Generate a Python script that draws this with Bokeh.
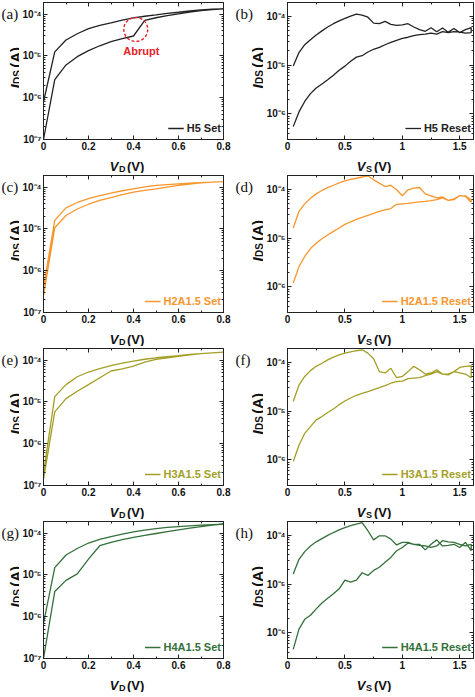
import math
from bokeh.plotting import figure
from bokeh.layouts import column, row
from bokeh.models import (Range1d, FixedTicker, SingleIntervalTicker, LinearAxis, LogAxis,
                          CustomJSTickFormatter)
from bokeh.core.properties import value
from bokeh.embed import file_html
from bokeh.resources import INLINE

# ---------------- data ----------------
v_set = [0.0, 0.05, 0.1, 0.15, 0.2, 0.25, 0.3, 0.35, 0.4, 0.45, 0.5, 0.55, 0.6, 0.65, 0.7, 0.75, 0.8]
v_reset = [0.05, 0.1, 0.15, 0.2, 0.25, 0.3, 0.35, 0.4, 0.45, 0.5, 0.55, 0.6, 0.65, 0.7, 0.75, 0.8,
           0.85, 0.9, 0.95, 1.0, 1.05, 1.1, 1.15, 1.2, 1.25, 1.3, 1.35, 1.4, 1.45, 1.5, 1.55, 1.6]

# (a) H5 Set : forward (lo) and return (hi) sweeps
a_lo = [1.0e-7, 2.7e-6, 6.1e-6, 9.6e-6, 1.34e-5, 1.75e-5, 2.2e-5, 2.6e-5, 3.0e-5, 7.1e-5, 8.2e-5,
        9.2e-5, 1.02e-4, 1.12e-4, 1.22e-4, 1.29e-4, 1.34e-4]
a_hi = [8e-7, 1.25e-5, 2.4e-5, 3.4e-5, 4.5e-5, 5.4e-5, 6.2e-5, 7.2e-5, 8.1e-5, 8.9e-5, 9.6e-5,
        1.04e-4, 1.11e-4, 1.2e-4, 1.27e-4, 1.31e-4, 1.34e-4]
# (b) H5 Reset : forward (hi) and return (lo)
b_hi = [9.5e-6, 1.8e-5, 2.6e-5, 3.3e-5, 4.1e-5, 5.0e-5, 6.0e-5, 7.0e-5, 8.0e-5, 9.0e-5, 1.0e-4, 1.1e-4,
        1.05e-4, 9.5e-5, 7.2e-5, 7.0e-5, 7.8e-5, 6.8e-5, 6.5e-5, 6.6e-5, 7.0e-5, 6.0e-5, 5.3e-5, 4.9e-5,
        5.8e-5, 4.8e-5, 5.7e-5, 4.7e-5, 5.6e-5, 4.6e-5, 5.3e-5, 5.8e-5]
b_lo = [5.5e-7, 1.1e-6, 1.8e-6, 2.6e-6, 3.4e-6, 4.1e-6, 5.0e-6, 6.2e-6, 7.8e-6, 9.5e-6, 1.2e-5, 1.45e-5,
        1.55e-5, 1.85e-5, 2.1e-5, 2.3e-5, 2.6e-5, 2.9e-5, 3.2e-5, 3.5e-5, 3.7e-5, 4.0e-5, 4.2e-5, 4.3e-5,
        4.5e-5, 4.3e-5, 4.8e-5, 4.6e-5, 4.8e-5, 4.7e-5, 4.5e-5, 4.6e-5]
# (c) H2A1.5 Set
c_lo = [2.5e-7, 1.07e-5, 2.1e-5, 3.0e-5, 3.9e-5, 4.8e-5, 5.6e-5, 6.6e-5, 7.6e-5, 8.4e-5, 9.1e-5,
        1.0e-4, 1.1e-4, 1.19e-4, 1.27e-4, 1.32e-4, 1.36e-4]
c_hi = [4e-7, 1.6e-5, 3.2e-5, 4.3e-5, 5.3e-5, 6.3e-5, 7.2e-5, 8.2e-5, 9.1e-5, 1.01e-4, 1.1e-4,
        1.15e-4, 1.2e-4, 1.24e-4, 1.28e-4, 1.32e-4, 1.36e-4]
# (d) H2A1.5 Reset
d_hi = [1.6e-5, 3.5e-5, 5.0e-5, 6.5e-5, 8.0e-5, 9.4e-5, 1.07e-4, 1.2e-4, 1.34e-4, 1.48e-4, 1.58e-4, 1.67e-4,
        1.77e-4, 1.87e-4, 1.55e-4, 1.33e-4, 1.13e-4, 1.2e-4, 9.7e-5, 7.3e-5, 9.7e-5, 1.05e-4, 1.08e-4, 8.0e-5,
        7.3e-5, 6.6e-5, 6.9e-5, 5.9e-5, 6.1e-5, 7.4e-5, 7.1e-5, 5.4e-5]
d_lo = [1.2e-6, 2.6e-6, 4.2e-6, 6.1e-6, 7.8e-6, 9.7e-6, 1.15e-5, 1.37e-5, 1.6e-5, 1.9e-5, 2.15e-5, 2.4e-5,
        2.65e-5, 2.9e-5, 3.2e-5, 3.5e-5, 3.75e-5, 4.0e-5, 4.9e-5, 5.0e-5, 5.1e-5, 5.3e-5, 5.5e-5, 5.6e-5,
        5.8e-5, 6.1e-5, 6.6e-5, 5.9e-5, 6.3e-5, 7.4e-5, 7.3e-5, 6.0e-5]
# (e) H3A1.5 Set
e_lo = [1.4e-7, 5.8e-6, 1.2e-5, 1.8e-5, 2.6e-5, 3.8e-5, 5.5e-5, 6.2e-5, 7.2e-5, 9.0e-5, 1.04e-4,
        1.14e-4, 1.24e-4, 1.34e-4, 1.44e-4, 1.5e-4, 1.55e-4]
e_hi = [2e-7, 1.34e-5, 2.6e-5, 4.0e-5, 5.2e-5, 6.3e-5, 7.4e-5, 8.5e-5, 9.5e-5, 1.05e-4, 1.14e-4,
        1.22e-4, 1.29e-4, 1.37e-4, 1.44e-4, 1.5e-4, 1.55e-4]
# (f) H3A1.5 Reset
f_hi = [1.56e-5, 3.4e-5, 5.1e-5, 6.7e-5, 8.2e-5, 9.5e-5, 1.11e-4, 1.27e-4, 1.4e-4, 1.53e-4, 1.62e-4, 1.71e-4,
        1.79e-4, 1.53e-4, 1.17e-4, 6.4e-5, 6.0e-5, 7.5e-5, 4.8e-5, 5.1e-5, 6.4e-5, 8.2e-5, 7.0e-5, 5.7e-5,
        6.0e-5, 7.0e-5, 5.7e-5, 5.7e-5, 6.4e-5, 6.0e-5, 5.7e-5, 4.8e-5]
f_lo = [9.3e-7, 2.0e-6, 3.5e-6, 4.8e-6, 6.6e-6, 7.7e-6, 9.3e-6, 1.1e-5, 1.35e-5, 1.6e-5, 1.85e-5, 2.1e-5,
        2.3e-5, 2.5e-5, 2.75e-5, 3.0e-5, 3.3e-5, 3.7e-5, 4.0e-5, 4.1e-5, 4.6e-5, 4.7e-5, 4.8e-5, 5.3e-5,
        5.7e-5, 6.4e-5, 5.7e-5, 5.5e-5, 6.4e-5, 7.8e-5, 8.2e-5, 8.4e-5]
# (g) H4A1.5 Set
g_lo = [1e-7, 4e-6, 7.4e-6, 1.06e-5, 2.4e-5, 5.0e-5, 6.0e-5, 7.0e-5, 7.9e-5, 8.8e-5, 9.8e-5,
        1.09e-4, 1.2e-4, 1.32e-4, 1.44e-4, 1.55e-4, 1.64e-4]
g_hi = [7e-7, 1.5e-5, 3.0e-5, 4.3e-5, 5.8e-5, 7.1e-5, 8.3e-5, 9.5e-5, 1.07e-4, 1.18e-4, 1.29e-4,
        1.37e-4, 1.44e-4, 1.5e-4, 1.55e-4, 1.6e-4, 1.64e-4]
# (h) H4A1.5 Reset
h_hi = [1.6e-5, 3.2e-5, 4.6e-5, 6.0e-5, 7.3e-5, 8.5e-5, 9.9e-5, 1.13e-4, 1.28e-4, 1.43e-4, 1.56e-4, 1.68e-4,
        1.81e-4, 1.23e-4, 8.0e-5, 9.7e-5, 9.7e-5, 8.3e-5, 6.3e-5, 7.1e-5, 7.1e-5, 6.5e-5, 6.5e-5, 5.0e-5,
        6.5e-5, 8.0e-5, 6.0e-5, 6.2e-5, 6.5e-5, 5.6e-5, 7.1e-5, 4.8e-5]
h_lo = [4.6e-7, 1.2e-6, 1.9e-6, 2.3e-6, 3.1e-6, 4.1e-6, 5.1e-6, 6.3e-6, 8.0e-6, 1.2e-5, 1.1e-5, 1.2e-5,
        1.7e-5, 1.5e-5, 1.9e-5, 2.2e-5, 2.8e-5, 3.5e-5, 4.8e-5, 5.6e-5, 6.9e-5, 6.5e-5, 6.2e-5, 6.0e-5,
        5.6e-5, 6.0e-5, 7.7e-5, 7.3e-5, 7.1e-5, 6.5e-5, 6.0e-5, 6.5e-5]

tags = ["(a)", "(b)", "(c)", "(d)", "(e)", "(f)", "(g)", "(h)"]
names = ["H5 Set", "H5 Reset", "H2A1.5 Set", "H2A1.5 Reset",
         "H3A1.5 Set", "H3A1.5 Reset", "H4A1.5 Set", "H4A1.5 Reset"]
colors = ["#222222", "#222222", "#F8962E", "#F8962E", "#A39F26", "#A39F26", "#34703A", "#34703A"]
set_ticks = [1e-7, 1e-6, 1e-5, 1e-4]
reset_ticks = [1e-6, 1e-5, 1e-4]
abrupt_x, abrupt_y = 0.41, 4.3e-5            # marked point in (a)
abrupt_text_x, abrupt_text_y = 0.435, 1.28e-5

minor_log = [k * 10.0 ** e for e in range(-8, -3) for k in range(2, 10)]

FONT = "Liberation Sans"
SERIF = "Liberation Serif"
SUP_CODE = """
const e = Math.round(Math.log10(tick));
const m = {"-":"\u207b","0":"\u2070","1":"\u00b9","2":"\u00b2","3":"\u00b3","4":"\u2074",
           "5":"\u2075","6":"\u2076","7":"\u2077","8":"\u2078","9":"\u2079"};
let s = "";
for (const c of String(e)) s += m[c];
return "10" + s;
"""

PLOT_H = 153      # 2 top + 137 frame + 14 bottom
STRIP_H = 20
TOTAL_W = 475


def style_axis(ax, hide=False):
    ax.major_tick_in = 4
    ax.major_tick_out = 0
    ax.minor_tick_in = 2
    ax.minor_tick_out = 0
    ax.axis_line_color = "#222222"
    ax.major_tick_line_color = "#222222"
    ax.minor_tick_line_color = "#222222"
    ax.major_label_text_font = FONT
    ax.major_label_text_font_style = "bold"
    ax.major_label_text_color = "#111111"
    if hide:
        ax.formatter = CustomJSTickFormatter(code='return ""')
        ax.major_label_text_font_size = "1px"
        ax.major_label_standoff = 0
    else:
        ax.major_label_text_font_size = "10px"
        ax.major_label_standoff = 2


def blank(width, height):
    # pixel-like data ranges: x from left, y from bottom
    p = figure(width=width, height=height, x_range=Range1d(0, width), y_range=Range1d(0, height),
               x_axis_type=None, y_axis_type=None, output_backend="svg", toolbar_location=None,
               min_border=0, min_border_left=0, min_border_right=0, min_border_top=0,
               min_border_bottom=0)
    p.outline_line_color = None
    p.grid.visible = False
    return p


def txt(p, x, y, text, size, style="bold", font=FONT, angle=0.0, align="left",
        baseline="alphabetic", color="#111111"):
    p.text(x=[x], y=[y], text=[text], angle=angle, text_font=value(font),
           text_font_size=f"{size}px", text_font_style=style, text_align=align,
           text_baseline=baseline, text_color=color)


def ytitle_fig(i):
    left = (i % 2 == 0)
    w = 19 if left else 30
    p = blank(w, PLOT_H)
    xb = 14.5 if left else 24
    rot = math.pi / 2
    txt(p, xb, 57, "I", 15, style="bold italic", angle=rot)
    txt(p, xb + 2, 62, "DS", 10, angle=rot)
    txt(p, xb, 80, "(A)", 15, angle=rot)
    txt(p, 1 if left else 2, PLOT_H - 13, tags[i], 15, style="normal", font=SERIF,
        baseline="middle")
    return p


def strip_fig(sub_l, sub_r):
    p = blank(TOTAL_W, STRIP_H)
    for cx, sub in ((128.5, sub_l), (375.5, sub_r)):
        txt(p, cx - 10.5, 7, "V", 13, style="bold italic", align="right")
        txt(p, cx - 10, 4.5, sub, 9)
        txt(p, cx - 2, 7, "(V)", 13)
    return p


def panel(i, v, lo, hi):
    left = (i % 2 == 0)
    color = colors[i]
    if left:
        W, bl, br = 214, 20, 10
        xr = Range1d(0, 0.8)
        yr = Range1d(1e-7, 1.9e-4)
        yt = set_ticks
        xs = v + v[::-1]
        ys = lo + hi[::-1]
        interval = 0.2
    else:
        W, bl, br = 212, 20, 2
        xr = Range1d(0, 1.62)
        yr = Range1d(3e-7, 1.9e-4)
        yt = reset_ticks
        xs = v + v[::-1]
        ys = hi + lo[::-1]
        interval = 0.5
    p = figure(width=W, height=PLOT_H, x_range=xr, y_range=yr, y_axis_type="log",
               output_backend="svg", toolbar_location=None,
               min_border_left=bl, min_border_right=br, min_border_top=2, min_border_bottom=14)
    p.grid.visible = False
    p.outline_line_color = "#222222"
    p.outline_line_width = 1
    p.background_fill_color = "white"

    p.xaxis.ticker = SingleIntervalTicker(interval=interval, num_minor_ticks=2)
    p.yaxis.ticker = FixedTicker(ticks=yt, minor_ticks=minor_log)
    p.yaxis.formatter = CustomJSTickFormatter(code=SUP_CODE)
    style_axis(p.xaxis[0])
    style_axis(p.yaxis[0])
    top = LinearAxis(ticker=SingleIntervalTicker(interval=interval, num_minor_ticks=2))
    style_axis(top, hide=True)
    p.add_layout(top, "above")
    right = LogAxis(ticker=FixedTicker(ticks=yt, minor_ticks=minor_log))
    style_axis(right, hide=True)
    p.add_layout(right, "right")

    p.line(xs, ys, line_color=color, line_width=1.3, legend_label=names[i])
    lg = p.legend[0]
    lg.location = "bottom_right"
    lg.background_fill_alpha = 0
    lg.border_line_alpha = 0
    lg.margin = 2
    lg.padding = 0
    lg.spacing = 0
    lg.glyph_width = 16
    lg.glyph_height = 18
    lg.label_height = 18
    lg.label_standoff = 3
    lg.label_text_font = FONT
    lg.label_text_font_style = "bold"
    lg.label_text_font_size = "11px"
    lg.label_text_color = color

    if i == 0:
        p.scatter([abrupt_x], [abrupt_y], marker="circle", size=24, fill_alpha=0,
                  line_color="#E8202A", line_width=1.4, line_dash="3 2")
        p.text([abrupt_text_x], [abrupt_text_y], text=["Abrupt"], text_color="#E8202A",
               text_font=value(FONT), text_font_style="bold", text_font_size="11px",
               text_align="center", text_baseline="middle")
    return p


series = [(v_set, a_lo, a_hi), (v_reset, b_lo, b_hi), (v_set, c_lo, c_hi), (v_reset, d_lo, d_hi),
          (v_set, e_lo, e_hi), (v_reset, f_lo, f_hi), (v_set, g_lo, g_hi), (v_reset, h_lo, h_hi)]

rows = []
for r in range(4):
    i, j = 2 * r, 2 * r + 1
    rows.append(row(ytitle_fig(i), panel(i, *series[i]), ytitle_fig(j), panel(j, *series[j])))
    rows.append(strip_fig("D", "S"))
layout = column(*rows)

open("out.html", "w").write(file_html(layout, INLINE))
